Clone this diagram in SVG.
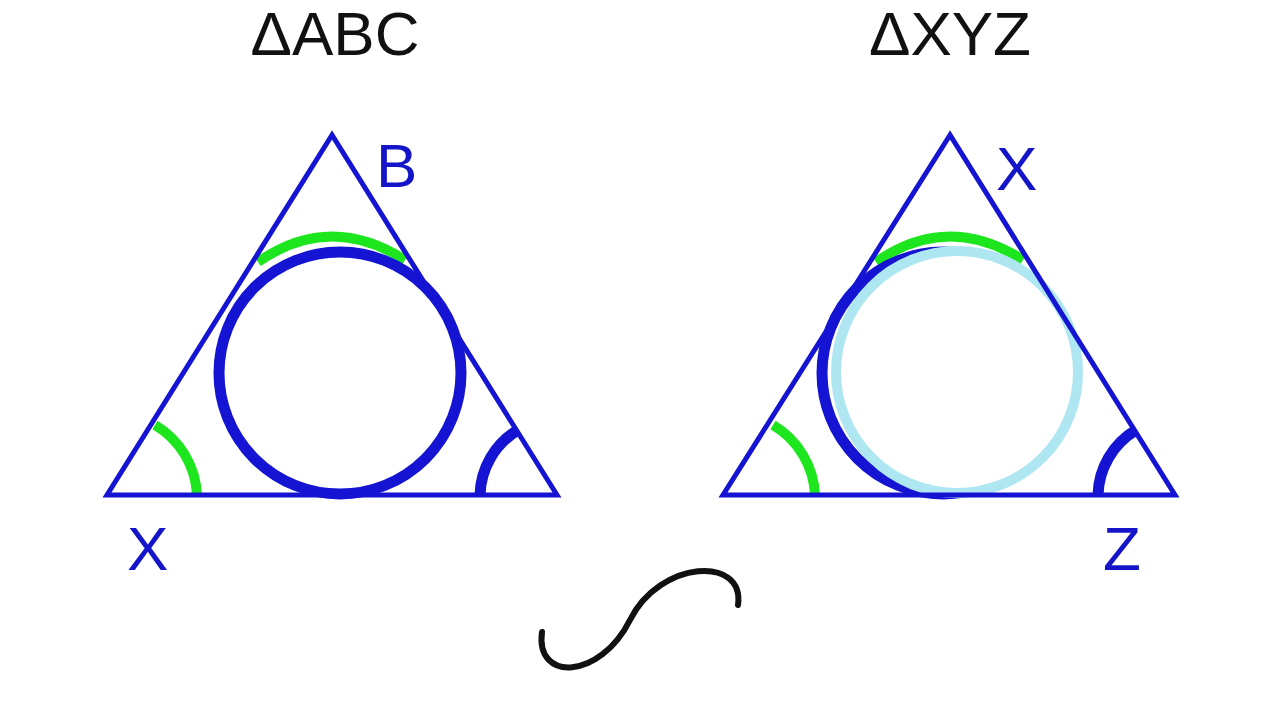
<svg xmlns="http://www.w3.org/2000/svg" width="1280" height="720" viewBox="0 0 1280 720">
<style>
.t{font-family:"Liberation Sans",Arial,sans-serif;font-size:62px;fill:#111}
.l{font-family:"Liberation Sans",Arial,sans-serif;font-size:62px;fill:#1414c8}
.tri{fill:none;stroke:#1414d2;stroke-width:5}
.b{fill:none;stroke:#1414d2;stroke-width:11}
.g{fill:none;stroke:#1ee61e;stroke-width:10}
</style>
<rect width="1280" height="720" fill="#fff"/>
<g id="titles">
<text class="t" x="335" y="55" text-anchor="middle">ΔABC</text>
<text class="t" x="950" y="55" text-anchor="middle">ΔXYZ</text>
</g>
<g id="left">
<path class="g" d="M258,262 Q330,212 405,260"/>
<path class="g" d="M155,425 A86,86 0 0 1 197,495"/>
<path class="b" d="M480,495 A78,78 0 0 1 518,430"/>
<circle class="b" cx="340" cy="373" r="121"/>
<polygon class="tri" points="332,135 107,495 557,495"/>
<text class="l" x="376" y="187">B</text>
<text class="l" x="127" y="570">X</text>
</g>
<g id="right">
<path class="g" d="M876,262 Q948,212 1023,260"/>
<path class="g" d="M773,425 A86,86 0 0 1 815,495"/>
<path class="b" d="M1098,495 A78,78 0 0 1 1136,430"/>
<circle class="b" cx="943" cy="373" r="121"/>
<circle cx="957" cy="372" r="121" fill="#fff" stroke="#aee6f2" stroke-width="10"/>
<polygon class="tri" points="950,135 723,495 1175,495"/>
<text class="l" x="996" y="190">X</text>
<text class="l" x="1103" y="570">Z</text>
</g>
<g id="connectors">
<path d="M542,632 C535,682 600,680 630,620 C660,560 745,555 738,605" fill="none" stroke="#111" stroke-width="6" stroke-linecap="round"/>
</g>
</svg>
